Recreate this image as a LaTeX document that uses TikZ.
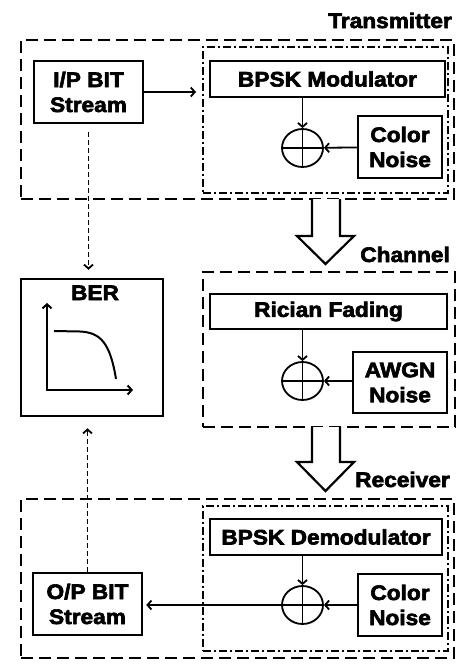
\documentclass[tikz,border=0pt]{standalone}
\usepackage{fontspec}
\setmainfont[FakeStretch=1.08, BoldFeatures={FakeBold=3}]{Liberation Sans}
\usetikzlibrary{arrows.meta,shapes.geometric}

\begin{document}
\begin{tikzpicture}[x=1pt, y=-1pt,
    every node/.style={font=\bfseries\fontsize{21}{25}\selectfont, align=center, inner sep=0pt},
    blk/.style={draw, line width=2.5pt},
    grp/.style={draw, line width=2.8pt, dash pattern=on 12pt off 6pt},
    subgrp/.style={draw, line width=2pt, dash pattern=on 8pt off 3pt on 2pt off 3pt},
    sumnode/.style={ellipse, draw, line width=1.8pt, minimum width=41pt, minimum height=38pt,
        path picture={\draw[line width=1.8pt] (path picture bounding box.north) -- (path picture bounding box.south)
            (path picture bounding box.west) -- (path picture bounding box.east);}},
    link/.style={-{Straight Barb[length=4pt,width=9pt]}, line width=1.8pt},
    berlink/.style={link, dash pattern=on 5pt off 3pt},
    hollow/.style={draw, line width=2.2pt, fill=white}]
    \useasboundingbox (0,0) rectangle (474,670);

    % Transmitter
    \node[grp, minimum width=433pt, minimum height=159pt] (tx) at (237.5,119.5) {};
    \node[subgrp, minimum width=245pt, minimum height=146pt] (txin) at (325.5,120) {};
    \node[anchor=base east] (txlabel) at (452,28) {Transmitter};
    \node[blk, minimum width=109pt, minimum height=62pt] (ipbit) at (88.5,92) {I/P BIT\\Stream};
    \node[blk, minimum width=235pt, minimum height=36pt] (mod) at (327.5,79) {BPSK Modulator};
    \node[sumnode] (sumtx) at (302.5,148) {};
    \node[blk, minimum width=84pt, minimum height=62pt] (noisetx) at (400,147) {Color\\Noise};

    % Channel
    \node[grp, minimum width=252pt, minimum height=155pt] (ch) at (329,349.5) {};
    \node[anchor=base east] (chlabel) at (450,262) {Channel};
    \node[blk, minimum width=237pt, minimum height=35pt] (fading) at (328.5,311.5) {Rician Fading};
    \node[sumnode] (sumch) at (302.5,381) {};
    \node[blk, minimum width=94pt, minimum height=61pt] (awgn) at (400,382.5) {AWGN\\Noise};

    % Receiver
    \node[grp, minimum width=433pt, minimum height=159pt] (rx) at (237.5,578.5) {};
    \node[subgrp, minimum width=245pt, minimum height=145pt] (rxin) at (325.5,578.5) {};
    \node[anchor=base east] (rxlabel) at (450,487) {Receiver};
    \node[blk, minimum width=232pt, minimum height=36pt] (demod) at (326,537) {BPSK Demodulator};
    \node[sumnode] (sumrx) at (302.5,605) {};
    \node[blk, minimum width=84pt, minimum height=62pt] (noiserx) at (400,605) {Color\\Noise};
    \node[blk, minimum width=109pt, minimum height=62pt] (opbit) at (87.5,604) {O/P BIT\\Stream};

    % BER
    \node[blk, minimum width=142pt, minimum height=137pt] (ber) at (92,347.5) {};
    \node[anchor=base] (berlabel) at (95,300) {BER};
    \draw[line width=2pt, {Straight Barb[length=4pt,width=9pt]}-{Straight Barb[length=4pt,width=9pt]}] (47,303) -- (47,390) -- (133,390);
    \draw[line width=2pt] (54,331) -- (80,331.5) .. controls (100,332.5) and (110,342) .. (116,379);

    % hollow arrows between the stages
    \draw[hollow] (312,199) -- (312,236) -- (297,236) -- (325.5,264) -- (354,236) -- (340,236) -- (340,199);
    \draw[hollow] (312,427) -- (312,462) -- (297,462) -- (325.5,491) -- (354,462) -- (340,462) -- (340,427);

    \draw[link, shorten >=6pt] (ipbit) -- (ipbit -| txin.west);
    \draw[link] (sumtx |- mod.south) -- (sumtx);
    \draw[link] (noisetx) -- (sumtx);
    \draw[link] (sumch |- fading.south) -- (sumch);
    \draw[link] (awgn.west |- sumch) -- (sumch);
    \draw[link] (sumrx |- demod.south) -- (sumrx);
    \draw[link] (noiserx) -- (sumrx);
    \draw[link, shorten >=3pt] (sumrx) -- (sumrx -| opbit.east);
    \draw[berlink, shorten <=8pt, shorten >=8pt] (ipbit.south) -- (ipbit.south |- ber.north); % into BER
    \draw[berlink, shorten >=11pt] (opbit.north) -- (opbit.north |- ber.south);
\end{tikzpicture}
\end{document}
